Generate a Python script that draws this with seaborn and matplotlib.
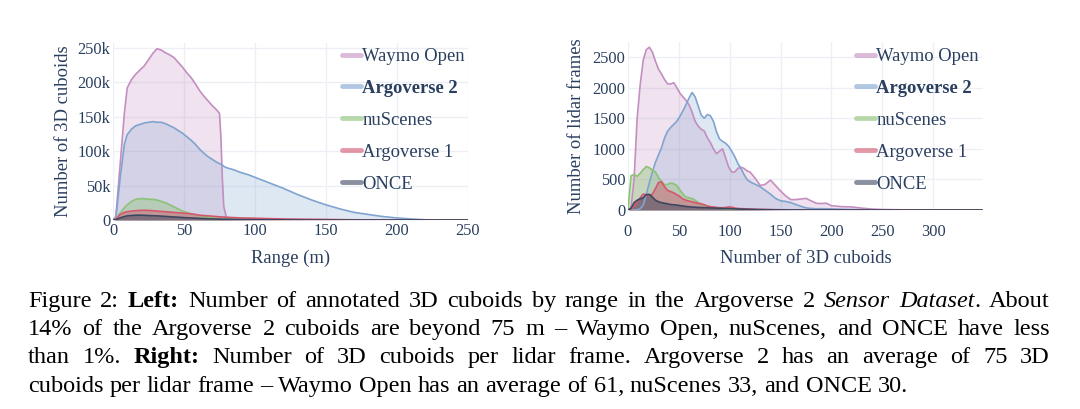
import re
import matplotlib
matplotlib.use("Agg")
import matplotlib.pyplot as plt
import matplotlib.transforms as mtransforms
from matplotlib.lines import Line2D
from matplotlib.ticker import FuncFormatter
import seaborn as sns

# ---- data: left panel, cuboids by range (values in thousands) ----
range_m = [0, 2, 5, 8, 10,
           13, 16, 19, 22, 25,
           28, 31, 34, 37, 40,
           43, 46, 49, 52, 55,
           58, 61, 64, 67, 70,
           73, 75, 76, 77, 78,
           80, 85, 90, 95, 100,
           110, 120, 130, 140, 150,
           160, 170, 180, 190, 200,
           210, 220, 230, 250]
waymo_range = [0, 5, 80, 155, 192,
               204, 212, 218, 224, 233,
               242, 249, 247, 243, 240,
               236, 229, 222, 214, 207,
               198, 188, 180, 173, 166,
               160, 155, 120, 60, 20,
               2, 0, 0, 0, 0,
               0, 0, 0, 0, 0,
               0, 0, 0, 0, 0,
               0, 0, 0, 0]
av2_range = [0, 2, 60, 110, 124,
             132, 137, 139, 141, 142,
             143, 142, 142, 140, 137,
             134, 130, 126, 121, 116,
             110, 103, 97, 92, 88,
             84, 82, 81, 80, 78,
             76, 73, 69, 66, 62,
             54, 46, 37, 29, 22,
             16, 11, 8, 5, 3,
             1.5, 0.3, 0, 0]
nusc_range = [0, 1, 10, 18, 22,
              27, 30, 31, 31, 30,
              30, 29, 27, 25, 22,
              19, 16, 13, 11, 9,
              7.5, 6, 5, 4, 3,
              2.5, 2, 2, 1.8, 1.7,
              1.5, 1, 0.7, 0.5, 0.3,
              0.1, 0, 0, 0, 0,
              0, 0, 0, 0, 0,
              0, 0, 0, 0]
av1_range = [0, 1, 8, 11, 12,
             13, 13.5, 14, 14, 14,
             13.5, 13, 12.5, 12, 11.5,
             11, 10.5, 10, 9.5, 9,
             8, 7, 6.5, 6, 5.5,
             5, 4.5, 4.5, 4.4, 4.3,
             4, 3.5, 3, 2.8, 2.5,
             2, 1.5, 1.2, 1, 0.8,
             0.5, 0.3, 0.2, 0.1, 0,
             0, 0, 0, 0]
once_range = [0, 0.5, 3, 5, 6,
              6.5, 7, 7, 6.8, 6.5,
              6.2, 6, 5.6, 5.2, 4.8,
              4.4, 4, 3.6, 3.2, 2.9,
              2.6, 2.3, 2, 1.8, 1.5,
              1.3, 1.2, 1.2, 1.1, 1.1,
              1, 0.8, 0.6, 0.5, 0.4,
              0.3, 0.2, 0.1, 0.05, 0,
              0, 0, 0, 0, 0,
              0, 0, 0, 0]

# ---- data: right panel, cuboids per lidar frame ----
n_cuboids = [0, 3, 6, 9, 12,
             15, 18, 21, 24, 27,
             30, 33, 36, 39, 42,
             45, 48, 51, 54, 57,
             60, 63, 66, 69, 72,
             75, 78, 81, 84, 87,
             90, 93, 96, 99, 102,
             105, 108, 111, 114, 117,
             120, 125, 130, 135, 140,
             145, 150, 155, 160, 165,
             170, 175, 180, 185, 190,
             195, 200, 210, 220, 230,
             240, 250, 270, 300, 348]
waymo_frames = [0, 40, 500, 1500, 2050,
                2450, 2620, 2660, 2580, 2430,
                2300, 2220, 2130, 2060, 2060,
                2080, 2000, 1910, 1850, 1790,
                1720, 1600, 1450, 1370, 1320,
                1290, 1180, 1100, 1000, 920,
                960, 1000, 850, 700, 620,
                620, 680, 700, 680, 640,
                620, 520, 400, 420, 490,
                400, 310, 230, 170, 170,
                180, 190, 150, 110, 105,
                110, 70, 55, 50, 30,
                15, 8, 3, 1, 0]
av2_frames = [0, 0, 0, 5, 20,
              80, 250, 450, 620, 780,
              900, 1020, 1180, 1290, 1350,
              1400, 1450, 1530, 1620, 1720,
              1830, 1920, 1850, 1700, 1550,
              1500, 1560, 1540, 1450, 1280,
              1160, 1120, 1090, 1040, 960,
              870, 760, 680, 580, 500,
              460, 420, 380, 320, 260,
              190, 150, 140, 120, 90,
              60, 35, 25, 20, 22,
              20, 18, 12, 8, 5,
              2, 1, 0, 0, 0]
nusc_frames = [0, 560, 580, 550, 600,
               660, 710, 690, 650, 620,
               530, 470, 410, 420, 440,
               430, 400, 330, 260, 210,
               200, 185, 160, 120, 95,
               75, 60, 50, 40, 35,
               30, 25, 20, 15, 12,
               10, 8, 6, 5, 4,
               3, 2, 1, 1, 0,
               0, 0, 0, 0, 0,
               0, 0, 0, 0, 0,
               0, 0, 0, 0, 0,
               0, 0, 0, 0, 0]
av1_frames = [0, 10, 60, 130, 200,
              260, 250, 230, 260, 350,
              450, 460, 380, 320, 300,
              280, 250, 220, 180, 160,
              145, 135, 120, 110, 100,
              85, 65, 55, 48, 42,
              38, 36, 40, 50, 45,
              32, 25, 22, 20, 18,
              15, 12, 10, 8, 6,
              5, 4, 3, 2, 2,
              1, 0, 0, 0, 0,
              0, 0, 0, 0, 0,
              0, 0, 0, 0, 0]
once_frames = [0, 30, 120, 160, 180,
               200, 250, 255, 210, 160,
               135, 120, 110, 100, 90,
               85, 80, 72, 65, 58,
               52, 48, 45, 42, 40,
               38, 36, 34, 32, 30,
               28, 26, 24, 22, 20,
               18, 16, 14, 12, 11,
               10, 8, 6, 5, 4,
               3, 3, 2, 2, 1,
               1, 0, 0, 0, 0,
               0, 0, 0, 0, 0,
               0, 0, 0, 0, 0]

labels = ["Waymo Open", "Argoverse 2", "nuScenes", "Argoverse 1", "ONCE"]
colors = ["#c48ec0", "#7fa4cf", "#8cc273", "#d4566e", "#3d4660"]
alphas = [0.25, 0.25, 0.4, 0.45, 0.5]

caption_lines = [
    "Figure 2: **Left:** Number of annotated 3D cuboids by range in the Argoverse 2 *Sensor* *Dataset*. About",
    "14% of the Argoverse 2 cuboids are beyond 75 m – Waymo Open, nuScenes, and ONCE have less",
    "than 1%. **Right:** Number of 3D cuboids per lidar frame. Argoverse 2 has an average of 75 3D",
    "cuboids per lidar frame – Waymo Open has an average of 61, nuScenes 33, and ONCE 30.",
]

TXT = "#2a3f5f"

sns.set_theme(style="white")
plt.rcParams["font.family"] = ["Liberation Serif", "DejaVu Serif"]

W, H = 1080, 409
fig = plt.figure(figsize=(W / 100, H / 100), dpi=100)

ax1 = fig.add_axes([113 / W, (H - 220) / H, 355 / W, 177.5 / H])
ax2 = fig.add_axes([628 / W, (H - 210) / H, 355 / W, 168.3 / H])

left_series = [waymo_range, av2_range, nusc_range, av1_range, once_range]
right_series = [waymo_frames, av2_frames, nusc_frames, av1_frames, once_frames]

for ax, xs, series in [(ax1, range_m, left_series), (ax2, n_cuboids, right_series)]:
    for ys, c, a in zip(series, colors, alphas):
        ax.fill_between(xs, ys, 0, color=c, alpha=a, lw=0)
        sns.lineplot(x=xs, y=ys, ax=ax, color=c, lw=1.2)
    ax.grid(True, color="#eceff5", lw=0.9)
    ax.set_axisbelow(True)
    sns.despine(ax=ax, left=True, bottom=True)
    ax.tick_params(length=0, pad=2, labelsize=11.8, labelcolor=TXT)

ax1.set_xlim(0, 250)
ax1.set_ylim(0, 258)
ax1.set_xticks([0, 50, 100, 150, 200, 250])
ax1.set_yticks([0, 50, 100, 150, 200, 250])
ax1.yaxis.set_major_formatter(FuncFormatter(lambda v, p: "0" if v == 0 else f"{int(v)}k"))
ax1.set_xlabel("Range (m)", fontsize=13.4, color=TXT, labelpad=8)
ax1.set_ylabel("Number of 3D cuboids", fontsize=13.4, color=TXT, labelpad=4)

ax2.set_xlim(0, 349)
ax2.set_ylim(0, 2750)
ax2.set_xticks([0, 50, 100, 150, 200, 250, 300])
ax2.set_yticks([0, 500, 1000, 1500, 2000, 2500])
ax2.tick_params(axis="x", pad=10)
ax2.set_xlabel("Number of 3D cuboids", fontsize=13.4, color=TXT, labelpad=7)
ax2.set_ylabel("Number of lidar frames", fontsize=13.4, color=TXT, labelpad=5)

# legends drawn over the plot area, plotly style
for ax, lx in [(ax1, 342), (ax2, 856)]:
    handles = [Line2D([0], [0], color=c, lw=3.5, alpha=0.6) for c in colors]
    leg = ax.legend(handles, labels, loc="upper left",
                    bbox_to_anchor=(lx / W, 1 - 48 / H), bbox_transform=fig.transFigure,
                    frameon=False, fontsize=13.4, handlelength=1.0, handletextpad=0.1,
                    labelspacing=0.8, borderaxespad=0, borderpad=0)
    for t in leg.get_texts():
        t.set_color(TXT)
    leg.get_texts()[1].set_fontweight("bold")

# ---- caption, justified by hand ----
CAP_SIZE = 17.5
cap_left, cap_right = 28, 1050
baselines = [306.7, 335, 363.3, 391.7]
renderer = fig.canvas.get_renderer()
ident = mtransforms.IdentityTransform()


def runs_of(word):
    out = []
    for b, i, n in re.findall(r"\*\*(.+?)\*\*|\*(.+?)\*|([^*]+)", word):
        if b:
            out.append((b, "bold", "normal"))
        elif i:
            out.append((i, "normal", "italic"))
        else:
            out.append((n, "normal", "normal"))
    return out


for k, line in enumerate(caption_lines):
    yb = H - baselines[k]
    words = []
    total = 0
    for w in line.split():
        arts = []
        for txt, weight, style in runs_of(w):
            t = fig.text(0, yb, txt, fontsize=CAP_SIZE, fontweight=weight, fontstyle=style,
                         color="black", va="baseline", ha="left", transform=ident)
            wd = t.get_window_extent(renderer).width
            arts.append((t, wd))
            total += wd
        words.append(arts)
    if k < len(caption_lines) - 1:
        gap = (cap_right - cap_left - total) / (len(words) - 1)
    else:
        gap = CAP_SIZE * 100 / 72 * 0.25
    x = cap_left
    for arts in words:
        for t, wd in arts:
            t.set_x(x)
            x += wd
        x += gap

fig.savefig("out.png", dpi=100)
